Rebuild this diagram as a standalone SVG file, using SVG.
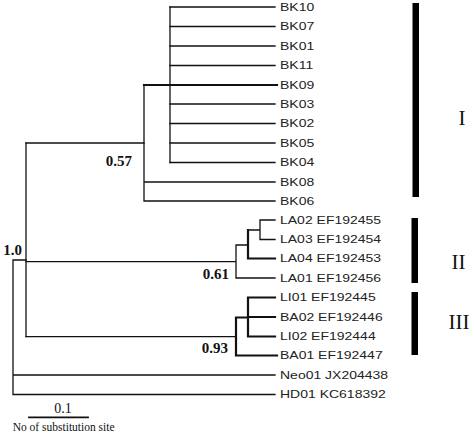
<svg xmlns="http://www.w3.org/2000/svg" width="474" height="437" viewBox="0 0 474 437">
<style>
.br{fill:none;stroke:#111;stroke-width:1.3;stroke-linecap:square}
.tk{fill:none;stroke:#111;stroke-width:2.2;stroke-linecap:square}
.lb{font-family:"Liberation Sans",Arial,sans-serif;font-size:10px;fill:#222}
.bs{font-family:"Liberation Serif","Times New Roman",serif;font-size:15px;font-weight:bold;fill:#111;text-anchor:end}
.cl{font-family:"Liberation Serif","Times New Roman",serif;font-size:21px;fill:#111;text-anchor:middle}
.sc{font-family:"Liberation Serif","Times New Roman",serif;fill:#111}
.bar{fill:#000}
</style>
<rect width="474" height="437" fill="#fff"/>
<g id="connectors">
<path class="br" d="M170,7 V162.5"/>
<path class="br" d="M170,7 H275 M170,26.5 H275 M170,46 H275 M170,65.5 H275 M170,104 H275 M170,123.5 H275 M170,143 H275 M170,162.5 H275"/>
<path class="tk" d="M144,85 H277"/>
<path class="br" d="M144,85 V201 M144,182 H275 M144,201 H275"/>
<path class="br" d="M26,143 H144"/>
<path class="br" d="M26,143 V336.7"/>
<path class="br" d="M13,260 H26 M13,260 V394.5 M13,375 H275 M13,394.5 H275"/>
<path class="br" d="M26,261.7 H236 M236,245 V278 M236,278 H275 M236,245 H248"/>
<path class="tk" d="M248,230 V258.5 H275"/>
<path class="br" d="M248,230 H260 M260,220 V239.5 M260,220 H275 M260,239.5 H275"/>
<path class="br" d="M26,336.7 H236"/>
<path class="tk" d="M236,317.5 V355.5 H277 M236,317.5 H248 M248,297.5 V336.5 M248,297.5 H275 M248,317 H275 M248,336.5 H275"/>
</g>
<g id="leaves" transform="translate(280,0) scale(1.4,1)">
<text class="lb" id="BK10" x="0" y="10.7">BK10</text>
<text class="lb" id="BK07" x="0" y="30.2">BK07</text>
<text class="lb" id="BK01" x="0" y="49.7">BK01</text>
<text class="lb" id="BK11" x="0" y="69.2">BK11</text>
<text class="lb" id="BK09" x="0" y="88.7">BK09</text>
<text class="lb" id="BK03" x="0" y="107.7">BK03</text>
<text class="lb" id="BK02" x="0" y="127.2">BK02</text>
<text class="lb" id="BK05" x="0" y="146.7">BK05</text>
<text class="lb" id="BK04" x="0" y="166.2">BK04</text>
<text class="lb" id="BK08" x="0" y="185.7">BK08</text>
<text class="lb" id="BK06" x="0" y="204.7">BK06</text>
<text class="lb" id="LA02" x="0" y="223.7">LA02 EF192455</text>
<text class="lb" id="LA03" x="0" y="243.2">LA03 EF192454</text>
<text class="lb" id="LA04" x="0" y="262.2">LA04 EF192453</text>
<text class="lb" id="LA01" x="0" y="281.7">LA01 EF192456</text>
<text class="lb" id="LI01" x="0" y="301.2">LI01 EF192445</text>
<text class="lb" id="BA02" x="0" y="320.7">BA02 EF192446</text>
<text class="lb" id="LI02" x="0" y="340.2">LI02 EF192444</text>
<text class="lb" id="BA01" x="0" y="359.2">BA01 EF192447</text>
<text class="lb" id="Neo01" x="0" y="378.7">Neo01 JX204438</text>
<text class="lb" id="HD01" x="0" y="398.2">HD01 KC618392</text>
</g>
<g id="support">
<text class="bs" x="132" y="166">0.57</text>
<text class="bs" x="229" y="279.3">0.61</text>
<text class="bs" x="228" y="352.7">0.93</text>
<text class="bs" x="22" y="255">1.0</text>
</g>
<g id="clade-I"><rect class="bar" x="412.5" y="3" width="6.5" height="194"/><text class="cl" x="462" y="125">I</text></g>
<g id="clade-II"><rect class="bar" x="411.5" y="218" width="6.5" height="65"/><text class="cl" x="458.5" y="268.5">II</text></g>
<g id="clade-III"><rect class="bar" x="411.5" y="292" width="6.5" height="63"/><text class="cl" x="459" y="329">III</text></g>
<g id="scale">
<path class="br" d="M29,417.3 H88" style="stroke-width:1.8"/>
<text class="sc" x="63" y="412.7" font-size="14" text-anchor="middle">0.1</text>
<text class="sc" x="12.7" y="431" font-size="11.5">No of substitution site</text>
</g>
</svg>
